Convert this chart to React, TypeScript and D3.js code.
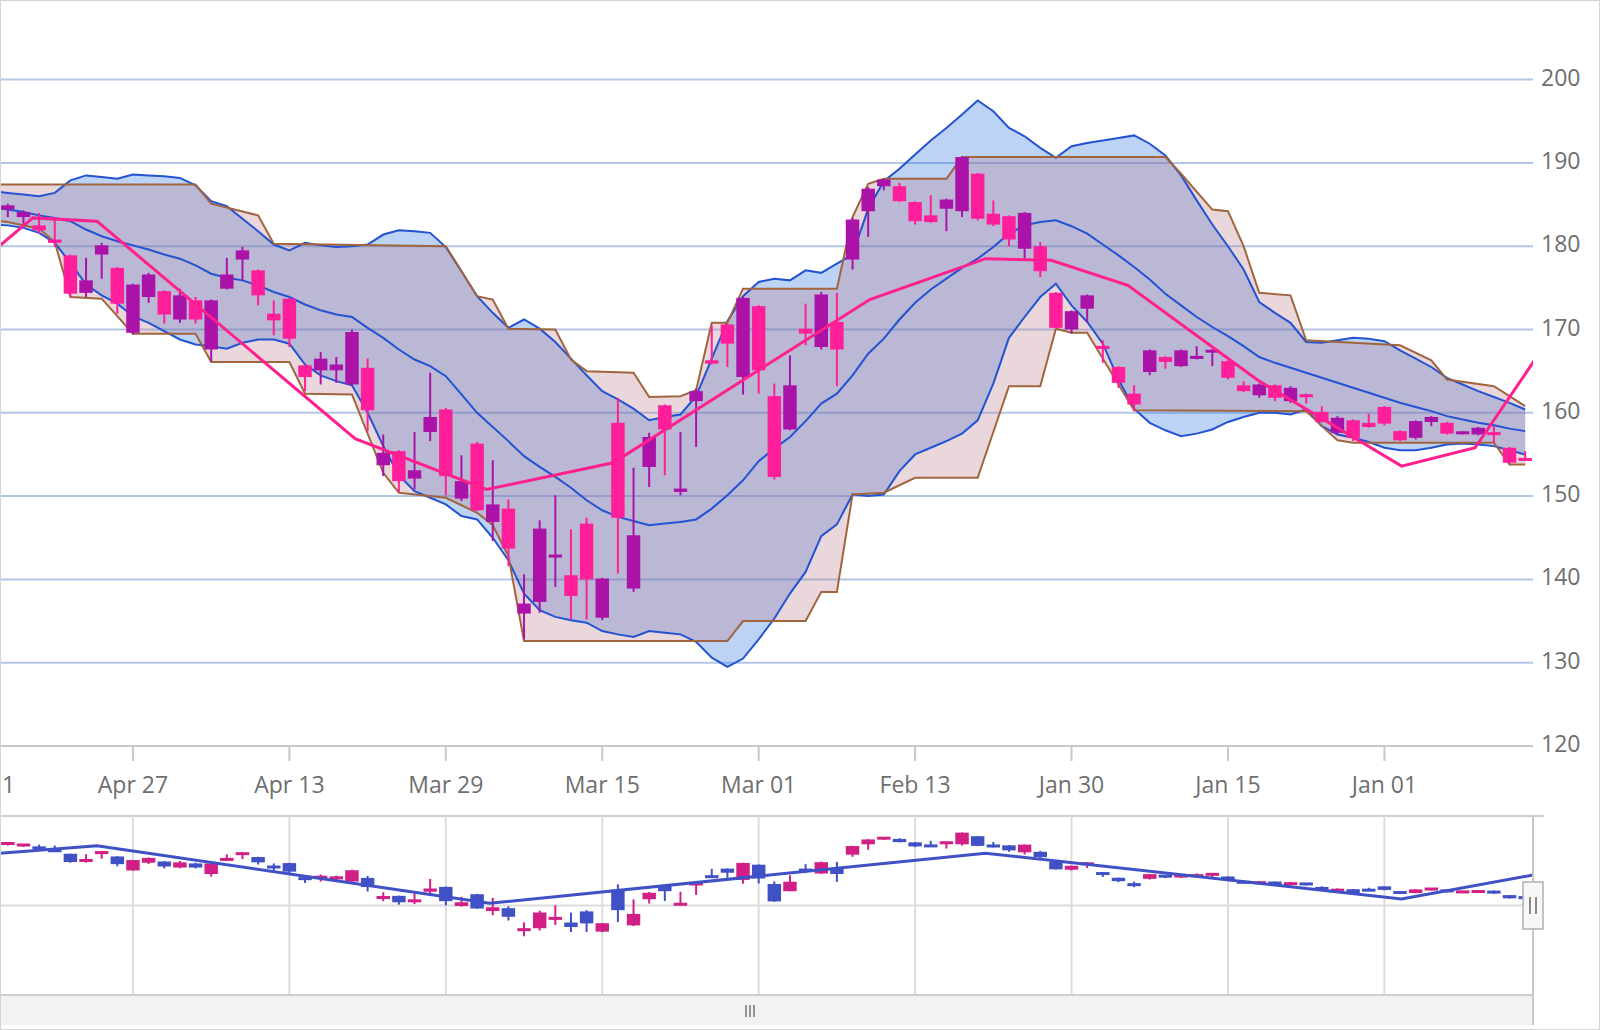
import { useEffect, useRef } from 'react';
import * as d3 from 'd3';

const WIDTH = 1600;
const HEIGHT = 1030;

// candles, index 0 = newest (left edge), axis runs back in time to the right
const opens = [
  184.9, 184.1, 181.9, 180.4, 174.3, 175.9, 180.1, 173.1, 175.4, 176.6,
  171.8, 174.1, 171.2, 173.5, 176.6, 179.5, 174.1, 171.1, 168.9, 164.3,
  166.5, 165.8, 169.7, 160.3, 155.2, 151.8, 153.1, 159.5, 152.4, 151.8,
  148.3, 149.0, 143.7, 137.1, 146.1, 142.9, 138.0, 140.0, 140.1, 147.4,
  145.3, 157.1, 158.0, 150.9, 162.6, 165.9, 168.3, 173.8, 165.1, 152.3,
  163.3, 169.5, 174.2, 167.6, 183.2, 186.9, 188.0, 185.4, 183.0, 182.9,
  185.6, 190.7, 183.3, 182.6, 180.8, 184.0, 177.0, 170.2, 172.2, 174.1,
  167.7, 163.6, 161.0, 167.5, 166.1, 167.5, 166.8, 167.5, 164.2, 162.6,
  163.4, 161.8, 163.0, 161.9, 158.9, 159.4, 157.0, 158.3, 158.7, 156.7,
  159.0, 159.5, 157.5, 157.7, 158.2, 157.4, 154.0, 154.3,
];
const highs = [
  185.1, 184.3, 184.0, 183.5, 179.0, 178.6, 180.4, 177.5, 175.5, 176.8,
  174.7, 174.9, 173.9, 173.6, 178.6, 179.9, 177.2, 173.5, 173.8, 165.8,
  167.3, 166.7, 170.0, 166.5, 157.4, 155.5, 157.7, 164.8, 160.6, 154.9,
  156.5, 154.3, 149.6, 140.6, 147.1, 150.1, 146.0, 147.4, 140.2, 161.8,
  153.4, 157.6, 161.0, 157.7, 162.9, 170.5, 170.7, 173.9, 172.9, 163.5,
  166.9, 173.1, 174.5, 174.4, 183.4, 187.1, 188.1, 187.6, 185.4, 186.1,
  185.7, 190.8, 188.8, 185.5, 183.7, 184.1, 180.5, 174.5, 172.3, 174.2,
  168.7, 165.6, 163.3, 167.6, 166.8, 167.6, 168.0, 167.6, 166.3, 163.8,
  163.5, 163.4, 163.2, 162.3, 160.8, 159.6, 159.2, 159.9, 160.8, 157.9,
  159.1, 159.6, 158.9, 157.8, 158.3, 158.4, 155.9, 155.4,
];
const lows = [
  183.5, 182.7, 181.5, 179.9, 173.9, 173.9, 176.1, 171.9, 169.4, 173.2,
  170.7, 170.8, 170.7, 166.1, 174.8, 175.9, 172.9, 169.3, 167.9, 162.6,
  163.4, 163.6, 163.3, 157.8, 152.4, 150.5, 150.8, 156.6, 150.1, 149.4,
  148.2, 144.6, 141.6, 132.8, 136.0, 139.1, 135.2, 135.2, 135.1, 140.7,
  138.5, 151.1, 152.5, 150.1, 155.9, 165.8, 165.5, 162.2, 162.3, 152.0,
  157.9, 168.1, 167.6, 163.2, 177.2, 181.1, 186.7, 185.3, 182.6, 182.8,
  181.8, 183.5, 183.1, 182.4, 180.0, 178.5, 176.3, 170.1, 169.5, 170.9,
  166.0, 163.0, 160.2, 164.5, 165.3, 165.5, 166.4, 165.6, 164.0, 162.5,
  161.8, 161.4, 161.2, 161.1, 158.8, 157.4, 156.6, 158.2, 158.5, 156.6,
  156.8, 158.4, 157.4, 157.4, 157.3, 156.4, 153.9, 154.2,
];
const closes = [
  184.4, 183.5, 182.5, 180.8, 178.9, 174.4, 179.0, 177.4, 169.6, 173.9,
  174.6, 171.2, 173.5, 167.6, 174.9, 178.4, 177.1, 171.9, 173.7, 165.7,
  165.1, 165.1, 163.4, 165.4, 153.7, 155.4, 152.1, 157.7, 160.4, 149.7,
  156.3, 146.9, 148.5, 135.9, 137.3, 142.7, 140.5, 146.7, 135.4, 158.8,
  138.9, 153.5, 160.9, 150.5, 161.4, 166.3, 170.6, 164.3, 172.8, 162.0,
  158.0, 170.1, 167.9, 170.9, 178.4, 184.2, 187.2, 187.2, 185.3, 183.7,
  184.5, 184.2, 188.7, 183.9, 183.6, 179.7, 180.0, 174.4, 170.0, 172.5,
  168.0, 165.5, 162.3, 164.9, 166.7, 165.6, 166.5, 167.3, 166.2, 163.3,
  162.1, 163.3, 161.4, 162.2, 160.1, 157.6, 159.1, 158.8, 160.7, 157.8,
  157.0, 158.9, 158.8, 157.5, 157.4, 157.6, 155.8, 154.5,
];

// [candle index, value]
const bollUpper: [number, number][] = [
  [-1, 186.6], [0, 186.4], [1, 186.2], [2, 186.0], [3, 186.4], [4, 187.9], [5, 188.5], [6, 188.3], [7, 188.1], [8, 188.6],
  [9, 188.5], [10, 188.4], [11, 188.2], [12, 187.3], [13, 185.4], [14, 184.8], [15, 183.3], [16, 181.8], [17, 180.2], [18, 179.5],
  [19, 180.4], [20, 180.1], [21, 179.9], [22, 180.0], [23, 180.2], [24, 181.4], [25, 181.9], [26, 181.8], [27, 181.6], [28, 179.9],
  [29, 177.0], [30, 174.0], [31, 172.0], [32, 170.2], [33, 171.2], [34, 170.1], [35, 168.5], [36, 166.5], [37, 164.5], [38, 162.6],
  [39, 161.6], [40, 160.5], [41, 159.1], [42, 159.5], [43, 159.8], [44, 162.0], [45, 166.5], [46, 171.0], [47, 174.0], [48, 175.7],
  [49, 176.1], [50, 175.9], [51, 177.1], [52, 176.8], [53, 177.9], [54, 179.0], [55, 184.5], [56, 187.8], [57, 189.3], [58, 191.0],
  [59, 192.7], [60, 194.2], [61, 195.8], [62, 197.5], [63, 196.2], [64, 194.2], [65, 193.2], [66, 191.8], [67, 190.6], [68, 192.0],
  [69, 192.4], [70, 192.7], [71, 193.0], [72, 193.3], [73, 192.3], [74, 190.9], [75, 188.5], [76, 185.5], [77, 182.6], [78, 180.0],
  [79, 177.2], [80, 173.3], [81, 172.0], [82, 170.8], [83, 168.5], [84, 168.4], [85, 168.7], [86, 169.0], [87, 168.9], [88, 168.6],
  [89, 167.5], [90, 166.5], [91, 165.5], [92, 164.2], [93, 163.4], [94, 162.6], [95, 161.9], [96, 161.2], [97, 160.4],
];
const bollMiddle: [number, number][] = [
  [-1, 184.7], [0, 184.4], [1, 184.1], [2, 183.7], [3, 183.4], [4, 183.0], [5, 182.0], [6, 181.2], [7, 180.6], [8, 180.1],
  [9, 179.6], [10, 179.0], [11, 178.5], [12, 177.7], [13, 176.7], [14, 176.2], [15, 175.9], [16, 175.3], [17, 174.5], [18, 173.9],
  [19, 173.0], [20, 172.3], [21, 171.8], [22, 171.5], [23, 170.2], [24, 169.0], [25, 167.6], [26, 166.4], [27, 165.6], [28, 164.4],
  [29, 162.2], [30, 160.0], [31, 158.3], [32, 156.6], [33, 154.8], [34, 153.5], [35, 152.3], [36, 151.0], [37, 149.5], [38, 148.3],
  [39, 147.5], [40, 147.0], [41, 146.5], [42, 146.7], [43, 146.9], [44, 147.2], [45, 148.5], [46, 150.1], [47, 151.9], [48, 154.2],
  [49, 155.7], [50, 157.1], [51, 159.0], [52, 161.1], [53, 162.3], [54, 164.5], [55, 167.1], [56, 168.9], [57, 171.2], [58, 173.2],
  [59, 174.8], [60, 176.1], [61, 177.4], [62, 178.5], [63, 179.9], [64, 181.5], [65, 182.5], [66, 182.9], [67, 183.1], [68, 182.4],
  [69, 181.5], [70, 180.2], [71, 178.9], [72, 177.5], [73, 176.0], [74, 174.3], [75, 172.9], [76, 171.5], [77, 170.3], [78, 169.2],
  [79, 168.0], [80, 166.7], [81, 166.0], [82, 165.4], [83, 164.8], [84, 164.2], [85, 163.6], [86, 163.0], [87, 162.4], [88, 161.8],
  [89, 161.2], [90, 160.7], [91, 160.2], [92, 159.6], [93, 159.2], [94, 158.8], [95, 158.5], [96, 158.1], [97, 157.8],
];
const bollLower: [number, number][] = [
  [-1, 182.6], [0, 182.5], [1, 182.2], [2, 181.6], [3, 180.4], [4, 178.0], [5, 175.4], [6, 174.1], [7, 173.1], [8, 171.6],
  [9, 170.8], [10, 169.8], [11, 168.8], [12, 168.2], [13, 168.0], [14, 167.7], [15, 168.4], [16, 168.8], [17, 168.8], [18, 168.3],
  [19, 165.8], [20, 164.5], [21, 163.8], [22, 163.3], [23, 160.0], [24, 156.0], [25, 152.5], [26, 150.6], [27, 149.8], [28, 149.0],
  [29, 147.6], [30, 147.2], [31, 145.0], [32, 142.3], [33, 138.3], [34, 136.3], [35, 135.5], [36, 135.1], [37, 134.8], [38, 133.8],
  [39, 133.4], [40, 133.1], [41, 133.8], [42, 133.6], [43, 133.4], [44, 132.5], [45, 130.6], [46, 129.5], [47, 130.5], [48, 132.8],
  [49, 135.3], [50, 138.3], [51, 140.9], [52, 145.2], [53, 146.6], [54, 150.2], [55, 150.0], [56, 150.2], [57, 153.0], [58, 155.0],
  [59, 155.8], [60, 156.6], [61, 157.5], [62, 159.1], [63, 163.5], [64, 169.0], [65, 171.5], [66, 173.9], [67, 175.5], [68, 172.9],
  [69, 170.9], [70, 168.3], [71, 164.0], [72, 160.5], [73, 158.8], [74, 157.9], [75, 157.2], [76, 157.5], [77, 158.0], [78, 158.9],
  [79, 159.5], [80, 160.0], [81, 160.0], [82, 159.8], [83, 160.4], [84, 158.4], [85, 157.4], [86, 157.0], [87, 156.5], [88, 155.8],
  [89, 155.5], [90, 155.5], [91, 155.8], [92, 156.2], [93, 156.3], [94, 156.2], [95, 156.0], [96, 155.5], [97, 155.0],
];
const donchUpper: [number, number][] = [
  [-1, 187.4], [12, 187.4], [13, 185.1], [16, 183.7], [17, 180.3], [28, 180.0], [30, 174.0], [31, 173.6], [32, 170.1], [35, 170.0],
  [36, 166.4], [37, 165.0], [40, 164.8], [41, 161.9], [43, 162.0], [44, 162.7], [45, 170.8], [46, 170.8], [47, 174.9], [53, 174.9],
  [54, 183.5], [55, 187.5], [56, 188.1], [60, 188.1], [61, 190.7], [74, 190.7], [75, 188.7], [77, 184.4], [78, 184.2], [79, 180.0],
  [80, 174.4], [82, 174.1], [83, 168.7], [89, 168.1], [91, 166.3], [92, 164.0], [95, 163.2], [97, 160.8],
];
const donchLower: [number, number][] = [
  [-1, 183.1], [0, 182.9], [2, 182.1], [3, 180.5], [4, 173.9], [6, 173.7], [8, 169.5], [12, 169.5], [13, 166.1], [18, 166.1],
  [19, 162.3], [22, 162.2], [24, 152.8], [25, 150.4], [28, 149.8], [30, 148.0], [31, 146.5], [32, 142.8], [33, 132.6], [46, 132.6],
  [47, 135.0], [51, 135.0], [52, 138.5], [53, 138.5], [54, 150.2], [56, 150.4], [58, 152.2], [62, 152.2], [64, 163.2], [66, 163.2],
  [67, 170.1], [68, 169.6], [69, 169.6], [72, 160.3], [83, 160.2], [84, 158.4], [85, 156.7], [86, 156.4], [95, 156.4], [96, 153.8],
  [97, 153.8],
];
const trendLine: [number, number][] = [
  [-1, 179.3], [1.6, 183.4], [5.7, 183.0], [22.2, 156.9], [30.6, 150.8], [38.7, 154.0], [55.1, 173.6],
  [62.5, 178.5], [66.7, 178.3], [71.6, 175.3], [80, 163.8], [89.1, 153.6], [93.8, 155.8], [98.5, 168.8],
];
const navLine: [number, number][] = [
  [-0.5, 179.2], [5.7, 183.4], [30.8, 151.2], [62.5, 179.2], [89.1, 153.6], [97.5, 167.0],
];

const tickLabels = ['May 11', 'Apr 27', 'Apr 13', 'Mar 29', 'Mar 15', 'Mar 01', 'Feb 13', 'Jan 30', 'Jan 15', 'Jan 01'];
const firstTick = -2;
const tickStep = 10;
const yTicks = [120, 130, 140, 150, 160, 170, 180, 190, 200];
const navTicks = [100, 150, 200];

const FONT = '"Open Sans", "Noto Sans", sans-serif';
const TEXT = '#6e6e6e';

export default function App() {
  const svgRef = useRef<SVGSVGElement>(null);

  useEffect(() => {
    if (!svgRef.current) return;
    const svg = d3.select(svgRef.current);
    svg.selectAll('*').remove();

    const plotRight = 1533;
    const axisY = 746;
    const navTop = 816;
    const navBottom = 995;
    const n = opens.length;

    const x = d3.scaleLinear().domain([-0.5, n - 0.5]).range([0, plotRight]);
    const y = d3.scaleLinear().domain([120, 200]).range([axisY, 79.6]);
    const yNav = d3.scaleLinear().domain([100, 200]).range([navBottom, navTop]);
    const step = x(1) - x(0);

    svg.append('rect').attr('width', WIDTH).attr('height', HEIGHT).attr('fill', '#fff');

    const defs = svg.append('defs');
    defs.append('clipPath').attr('id', 'main-clip')
      .append('rect').attr('x', 0).attr('y', 0).attr('width', plotRight).attr('height', axisY);
    defs.append('clipPath').attr('id', 'nav-clip')
      .append('rect').attr('x', 0).attr('y', navTop).attr('width', plotRight).attr('height', navBottom - navTop);

    // gridlines + y labels
    yTicks.forEach(v => {
      svg.append('line')
        .attr('x1', 0).attr('x2', plotRight)
        .attr('y1', y(v)).attr('y2', y(v))
        .attr('stroke', v === 120 ? '#c8c8c8' : '#b3c6e8')
        .attr('stroke-width', 2);
      svg.append('text')
        .attr('x', 1541).attr('y', y(v) - 3)
        .attr('dominant-baseline', 'central')
        .attr('fill', TEXT).attr('font-family', FONT).attr('font-size', '23px')
        .text(v);
    });

    // x ticks + labels (the first one sits off the left edge, only its tail shows)
    tickLabels.forEach((label, k) => {
      const xi = x(firstTick + k * tickStep);
      svg.append('line')
        .attr('x1', xi).attr('x2', xi).attr('y1', axisY).attr('y2', axisY + 15)
        .attr('stroke', '#c8c8c8').attr('stroke-width', 2);
      svg.append('text')
        .attr('x', xi).attr('y', 784)
        .attr('text-anchor', 'middle').attr('dominant-baseline', 'central')
        .attr('fill', TEXT).attr('font-family', FONT).attr('font-size', '23px')
        .text(label);
    });

    const g = svg.append('g').attr('clip-path', 'url(#main-clip)');
    const toPts = (arr: [number, number][]) => arr.map(([i, v]) => [x(i), y(v)] as [number, number]);
    const line = d3.line();

    // bollinger fill
    const bollArea = d3.area<number>()
      .x(k => x(bollUpper[k][0]))
      .y0(k => y(bollLower[k][1]))
      .y1(k => y(bollUpper[k][1]));
    g.append('path')
      .datum(d3.range(bollUpper.length))
      .attr('d', bollArea)
      .attr('fill', 'rgb(32,108,222)').attr('fill-opacity', 0.3);

    // donchian fill
    const donchPoly = toPts(donchUpper).concat(toPts(donchLower).reverse());
    g.append('path')
      .attr('d', line(donchPoly) + 'Z')
      .attr('fill', 'rgb(182,124,140)').attr('fill-opacity', 0.3);

    [bollUpper, bollLower, bollMiddle].forEach(arr => {
      g.append('path').attr('d', line(toPts(arr)))
        .attr('fill', 'none').attr('stroke', '#2352d2').attr('stroke-width', 2);
    });
    [donchUpper, donchLower].forEach(arr => {
      g.append('path').attr('d', line(toPts(arr)))
        .attr('fill', 'none').attr('stroke', '#a0653e').attr('stroke-width', 2);
    });

    // candles
    const bodyW = step * 0.86;
    const drawCandles = (
      parent: d3.Selection<SVGGElement, unknown, null, undefined>,
      ys: d3.ScaleLinear<number, number>,
      upColor: string,
      downColor: string,
    ) => {
      for (let i = 0; i < n; i++) {
        const up = closes[i] >= opens[i];
        const color = up ? upColor : downColor;
        const cx = x(i);
        parent.append('line')
          .attr('x1', cx).attr('x2', cx)
          .attr('y1', ys(highs[i])).attr('y2', ys(lows[i]))
          .attr('stroke', color).attr('stroke-width', 2);
        const top = ys(Math.max(opens[i], closes[i]));
        const bottom = ys(Math.min(opens[i], closes[i]));
        const h = Math.max(3, bottom - top);
        parent.append('rect')
          .attr('x', cx - bodyW / 2).attr('y', (top + bottom) / 2 - h / 2)
          .attr('width', bodyW).attr('height', h)
          .attr('fill', color);
      }
    };
    drawCandles(g, y, '#ff1f9a', '#aa12a8');

    g.append('path').attr('d', line(toPts(trendLine)))
      .attr('fill', 'none').attr('stroke', '#ff1f8e').attr('stroke-width', 3);

    // navigator
    svg.append('line').attr('x1', 0).attr('x2', 1544).attr('y1', navTop).attr('y2', navTop)
      .attr('stroke', '#cfcfcf').attr('stroke-width', 2);
    navTicks.slice(1, 2).forEach(v => {
      svg.append('line').attr('x1', 0).attr('x2', plotRight).attr('y1', yNav(v)).attr('y2', yNav(v))
        .attr('stroke', '#dcdcdc').attr('stroke-width', 2);
    });
    tickLabels.forEach((_, k) => {
      const xi = x(firstTick + k * tickStep);
      svg.append('line').attr('x1', xi).attr('x2', xi).attr('y1', navTop).attr('y2', navBottom)
        .attr('stroke', '#dcdcdc').attr('stroke-width', 2);
    });

    const ng = svg.append('g').attr('clip-path', 'url(#nav-clip)');
    drawCandles(ng, yNav, '#3f51c5', '#d11f86');
    ng.append('path')
      .attr('d', line(navLine.map(([i, v]) => [x(i), yNav(v)] as [number, number])))
      .attr('fill', 'none').attr('stroke', '#3f51c5').attr('stroke-width', 3);

    // scrollbar
    svg.append('rect').attr('x', 0).attr('y', navBottom).attr('width', plotRight).attr('height', 30)
      .attr('fill', '#f2f2f2');
    svg.append('line').attr('x1', 0).attr('x2', plotRight).attr('y1', navBottom).attr('y2', navBottom)
      .attr('stroke', '#cfcfcf').attr('stroke-width', 2);
    [-4, 0, 4].forEach(dx => {
      svg.append('line').attr('x1', 750 + dx).attr('x2', 750 + dx).attr('y1', 1005).attr('y2', 1017)
        .attr('stroke', '#555').attr('stroke-width', 1.2);
    });

    // selection edge + handle
    svg.append('line').attr('x1', plotRight).attr('x2', plotRight).attr('y1', navTop).attr('y2', 1025)
      .attr('stroke', '#c8c8c8').attr('stroke-width', 2);
    svg.append('rect').attr('x', 1523).attr('y', 882).attr('width', 20).attr('height', 47)
      .attr('fill', '#f7f7f7').attr('stroke', '#b0b0b0').attr('stroke-width', 1.5);
    [1530, 1536].forEach(hx => {
      svg.append('line').attr('x1', hx).attr('x2', hx).attr('y1', 897).attr('y2', 914)
        .attr('stroke', '#666').attr('stroke-width', 1.5);
    });

    // outer frame
    svg.append('rect').attr('x', 0.5).attr('y', 0.5).attr('width', WIDTH - 1).attr('height', HEIGHT - 1)
      .attr('fill', 'none').attr('stroke', '#d4d4d4').attr('stroke-width', 1);
  }, []);

  return (
    <svg
      ref={svgRef}
      width={WIDTH}
      height={HEIGHT}
      style={{ position: 'absolute', left: 0, top: 0, display: 'block' }}
    />
  );
}
